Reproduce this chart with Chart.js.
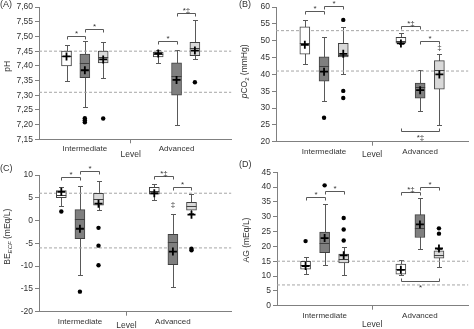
<!DOCTYPE html>
<html><head><meta charset="utf-8">
<script src="https://cdn.jsdelivr.net/npm/chart.js@4.4.1/dist/chart.umd.min.js"></script>
<style>
html,body{margin:0;padding:0;background:#fff;width:474px;height:329px;overflow:hidden;position:relative;}
canvas{position:absolute;}
</style></head><body>
<canvas id="cA" width="237" height="164" style="left:0;top:0"></canvas>
<canvas id="cB" width="237" height="164" style="left:237px;top:0"></canvas>
<canvas id="cC" width="237" height="169" style="left:0;top:160px"></canvas>
<canvas id="cD" width="237" height="169" style="left:237px;top:160px"></canvas>
<script>
// ---------- data ----------
const categories = ['Intermediate', 'Advanced'];
const xTitle = 'Level';
// box order: Intermediate (white, dark, light), Advanced (white, dark, light)

const pH_ticks   = [7.15, 7.20, 7.25, 7.30, 7.35, 7.40, 7.45, 7.50, 7.55, 7.60];
const pH_low     = [7.35, 7.26, 7.36, 7.41, 7.20, 7.425];
const pH_q1      = [7.40, 7.36, 7.41, 7.43, 7.30, 7.435];
const pH_median  = [7.435, 7.41, 7.43, 7.44, 7.365, 7.46];
const pH_q3      = [7.45, 7.44, 7.45, 7.447, 7.41, 7.48];
const pH_high    = [7.47, 7.485, 7.48, 7.453, 7.453, 7.555];
const pH_mean    = [7.432, 7.385, 7.422, 7.442, 7.352, 7.452];
const pH_outliers = [[1, 7.222], [1, 7.215], [1, 7.208], [2, 7.221], [5, 7.344]];
const pH_ref     = [7.45, 7.31];
const pH_brackets = [[0, 1, 7.500, '*', 'above'], [1, 2, 7.527, '*', 'above'], [3, 4, 7.483, '*', 'above'], [4, 5, 7.580, '*‡', 'above']];
const pH_marks   = [];

const pCO2_ticks  = [20, 25, 30, 35, 40, 45, 50, 55, 60];
const pCO2_low    = [43.2, 32.2, 40.2, 49.0, 29.1, 25.1];
const pCO2_q1     = [46.0, 38.0, 45.2, 49.3, 32.9, 35.6];
const pCO2_median = [49.2, 42.4, 45.8, 49.8, 36.2, 41.4];
const pCO2_q3     = [54.1, 45.2, 49.2, 51.0, 37.4, 44.1];
const pCO2_high   = [56.2, 51.2, 54.1, 52.2, 41.2, 46.2];
const pCO2_mean   = [48.8, 40.8, 46.1, 49.2, 35.3, 40.0];
const pCO2_outliers = [[1, 27.1], [2, 56.2], [2, 35.1], [2, 33.0]];
const pCO2_ref    = [53, 41];
const pCO2_brackets = [[0, 1, 58.8, '*', 'above'], [1, 2, 60.2, '*', 'above'], [3, 4, 54.4, '*‡', 'above'], [4, 5, 49.8, '*', 'above'], [3, 5, 23.2, '*‡', 'below']];
const pCO2_marks  = [[5, 48.0, '‡']];

const BE_ticks    = [-20, -15, -10, -5, 0, 5, 10];
const BE_low      = [3.2, -12.0, 2.3, 4.6, -14.6, 1.6];
const BE_q1       = [5.0, -4.0, 3.4, 5.8, -9.7, 2.3];
const BE_median   = [5.7, 0.3, 4.7, 6.5, -4.7, 3.1];
const BE_q3       = [6.6, 2.4, 6.0, 7.3, -3.0, 4.0];
const BE_high     = [7.4, 7.5, 8.6, 8.0, 1.4, 5.8];
const BE_mean     = [6.3, -1.8, 3.7, 6.0, -6.8, 1.3];
const BE_outliers = [[0, 2.0], [1, -15.6], [2, -1.6], [2, -5.5], [2, -9.8], [5, -6.2], [5, -6.5]];
const BE_ref      = [6, -6];
const BE_brackets = [[0, 1, 9.6, '*', 'above'], [1, 2, 10.9, '*', 'above'], [3, 4, 9.8, '*‡', 'above'], [4, 5, 7.4, '*', 'above']];
const BE_marks    = [[4, 3.4, '‡']];

const AG_ticks    = [0, 5, 10, 15, 20, 25, 30, 35, 40, 45];
const AG_low      = [10.6, 13.6, 10.3, 10.3, 19.0, 13.0];
const AG_q1       = [12.3, 17.9, 14.4, 10.6, 23.0, 16.0];
const AG_median   = [13.7, 21.0, 15.7, 12.3, 26.2, 17.2];
const AG_q3       = [15.0, 24.8, 17.4, 14.0, 30.7, 18.5];
const AG_high     = [16.3, 34.3, 19.7, 15.5, 36.2, 19.0];
const AG_mean     = [13.4, 22.8, 17.0, 12.1, 27.4, 19.3];
const AG_outliers = [[0, 21.8], [1, 40.6], [2, 29.6], [2, 25.7], [2, 22.0], [5, 26.1], [5, 24.3]];
const AG_ref      = [15, 7];
const AG_brackets = [[0, 1, 36.8, '*', 'above'], [1, 2, 38.7, '*', 'above'], [3, 4, 38.5, '*‡', 'above'], [4, 5, 40.2, '*', 'above'], [3, 5, 8.4, '*', 'below']];
const AG_marks    = [];

// ---------- drawing ----------
const FONT = "'Liberation Sans', Arial, sans-serif";
const TXT = '#333333';
const AXIS = '#808080';
const LINE = '#595959';
const FILLS = ['#ffffff', '#7f7f7f', '#d9d9d9'];
const boxX = i => Math.floor(i / 3) + 0.5 + (i % 3 - 1) * 0.2;

function extras(P) {
  return {
    id: 'extras',
    beforeDatasetsDraw(chart) {
      const {ctx, scales: {x, y}} = chart;
      ctx.save();
      ctx.strokeStyle = LINE; ctx.lineWidth = 1;
      P.low.forEach((lo, i) => {
        const px = Math.round(x.getPixelForValue(boxX(i))) + 0.5;
        const yl = Math.round(y.getPixelForValue(lo)) + 0.5;
        const yh = Math.round(y.getPixelForValue(P.high[i])) + 0.5;
        ctx.beginPath();
        ctx.moveTo(px, yl); ctx.lineTo(px, yh);
        ctx.moveTo(px - 2.5, yl); ctx.lineTo(px + 2.5, yl);
        ctx.moveTo(px - 2.5, yh); ctx.lineTo(px + 2.5, yh);
        ctx.stroke();
      });
      ctx.restore();
    },
    afterDatasetDraw(chart, args) {
      if (args.meta.type !== 'bar') return;
      const {ctx, scales: {x, y}} = chart;
      ctx.save();
      ctx.strokeStyle = '#404040'; ctx.lineWidth = 1;
      P.median.forEach((m, i) => {
        const px = x.getPixelForValue(boxX(i));
        const py = Math.round(y.getPixelForValue(m)) + 0.5;
        ctx.beginPath(); ctx.moveTo(px - 5, py); ctx.lineTo(px + 5, py); ctx.stroke();
      });
      ctx.restore();
    },
    afterDraw(chart) {
      const {ctx, chartArea, scales: {x, y}} = chart;
      ctx.save();
      ctx.strokeStyle = LINE; ctx.lineWidth = 1; ctx.fillStyle = TXT;
      ctx.textAlign = 'center'; ctx.textBaseline = 'middle';
      ctx.font = '8px ' + FONT;
      P.brackets.forEach(([a, b, v, label, side]) => {
        const x1 = Math.round(x.getPixelForValue(boxX(a))) + 0.5;
        const x2 = Math.round(x.getPixelForValue(boxX(b))) + 0.5;
        const yy = Math.round(y.getPixelForValue(v)) + 0.5;
        const d = side === 'below' ? -1 : 1;
        ctx.beginPath();
        ctx.moveTo(x1, yy + 3 * d); ctx.lineTo(x1, yy); ctx.lineTo(x2, yy); ctx.lineTo(x2, yy + 3 * d);
        ctx.stroke();
        ctx.fillText(label, (x1 + x2) / 2, side === 'below' ? yy + 6 : yy - 3);
      });
      P.marks.forEach(([i, v, t]) => {
        ctx.fillText(t, x.getPixelForValue(boxX(i)), y.getPixelForValue(v));
      });
      // panel label
      ctx.textAlign = 'left';
      ctx.font = '9px ' + FONT;
      ctx.fillText(P.label, P.labelX, P.labelY);
      // y-axis title with rich segments
      ctx.translate(P.titleX, (chartArea.top + chartArea.bottom) / 2 + P.titleDy);
      ctx.rotate(-Math.PI / 2);
      const fontOf = s => (s.i ? 'italic ' : '') + (s.sub ? '6px ' : '8.5px ') + FONT;
      let total = 0;
      P.title.forEach(s => { ctx.font = fontOf(s); s.w = ctx.measureText(s.t).width; total += s.w; });
      let cx = -total / 2;
      P.title.forEach(s => { ctx.font = fontOf(s); ctx.fillText(s.t, cx, s.sub ? 2.5 : 0); cx += s.w; });
      ctx.restore();
    }
  };
}

function makeChart(id, P) {
  const xs = P.low.map((_, i) => boxX(i));
  const datasets = [];
  P.ref.forEach(r => datasets.push({
    type: 'line', data: [{x: P.xMin, y: r}, {x: P.xMax, y: r}],
    borderColor: '#a6a6a6', borderWidth: 1, borderDash: [3, 2], pointRadius: 0, order: 10, clip: false
  }));
  datasets.push({
    type: 'bar', data: xs.map((x, i) => ({x, y: [P.q1[i], P.q3[i]]})),
    backgroundColor: xs.map((_, i) => FILLS[i % 3]), borderColor: '#404040', borderWidth: 1,
    borderSkipped: false, barThickness: 10, order: 5
  });
  datasets.push({
    type: 'scatter', data: P.outliers.map(([i, v]) => ({x: boxX(i), y: v})),
    pointStyle: 'circle', pointRadius: 2.2, backgroundColor: '#000', borderColor: '#000', borderWidth: 0, order: 2, clip: false
  });
  datasets.push({
    type: 'scatter', data: xs.map((x, i) => ({x, y: P.mean[i]})),
    pointStyle: 'cross', pointRadius: 4, borderColor: '#000', borderWidth: 1.8, order: 1, clip: false
  });
  return new Chart(document.getElementById(id), {
    type: 'bar',
    data: {datasets},
    options: {
      responsive: false, animation: false, devicePixelRatio: 1,
      layout: {padding: {left: 0, right: P.padRight, top: P.padTop, bottom: 0}},
      plugins: {legend: {display: false}, tooltip: {enabled: false}},
      scales: {
        x: {
          type: 'linear', min: P.xMin, max: P.xMax, offset: false,
          grid: {offset: false, drawOnChartArea: false, tickLength: 4,
                 tickColor: c => (c.tick && c.tick.value === 1) ? AXIS : 'rgba(0,0,0,0)'},
          border: {color: AXIS, width: 1},
          afterBuildTicks: s => { s.ticks = [{value: 0.5}, {value: 1}, {value: 1.5}]; },
          afterFit: s => { s.height = P.xHeight; },
          ticks: {
            autoSkip: false, maxRotation: 0, minRotation: 0, padding: 1, color: TXT,
            callback: v => v === 1 ? xTitle : categories[Math.round(v - 0.5)],
            font: c => (c.tick && c.tick.value === 1)
              ? {family: FONT, size: 8.5, lineHeight: P.levelLH}
              : {family: FONT, size: 8}
          }
        },
        y: {
          type: 'linear', min: P.ticks[0], max: P.ticks[P.ticks.length - 1], beginAtZero: false,
          grid: {drawOnChartArea: false, tickLength: 4, tickColor: AXIS},
          border: {color: AXIS, width: 1},
          afterBuildTicks: s => { s.ticks = P.ticks.map(v => ({value: v})); },
          afterFit: s => { s.width = P.left; },
          ticks: {padding: 2, color: TXT, font: {family: FONT, size: 8.5}, callback: P.fmt}
        }
      }
    },
    plugins: [extras(P)]
  });
}

const intFmt = v => String(Math.round(v));
makeChart('cA', {
  ticks: pH_ticks, low: pH_low, q1: pH_q1, median: pH_median, q3: pH_q3, high: pH_high, mean: pH_mean,
  outliers: pH_outliers, ref: pH_ref, brackets: pH_brackets, marks: pH_marks,
  fmt: v => v.toFixed(2).replace('.', ','),
  xMin: 0, xMax: 2.096, padTop: 5.7, padRight: 2, left: 39, xHeight: 24.7, levelLH: '21.4px',
  title: [{t: 'pH'}], titleX: 7.5, titleDy: -7, label: '(A)', labelX: 0, labelY: 5
});
makeChart('cB', {
  ticks: pCO2_ticks, low: pCO2_low, q1: pCO2_q1, median: pCO2_median, q3: pCO2_q3, high: pCO2_high, mean: pCO2_mean,
  outliers: pCO2_outliers, ref: pCO2_ref, brackets: pCO2_brackets, marks: pCO2_marks,
  fmt: intFmt,
  xMin: 0, xMax: 2.0, padTop: 5, padRight: 0, left: 39, xHeight: 22.3, levelLH: '15.2px',
  title: [{t: 'p', i: 1}, {t: 'CO'}, {t: '2', sub: 1}, {t: ' (mmHg)'}], titleX: 7.5, titleDy: -3,
  label: '(B)', labelX: 2, labelY: 5
});
makeChart('cC', {
  ticks: BE_ticks, low: BE_low, q1: BE_q1, median: BE_median, q3: BE_q3, high: BE_high, mean: BE_mean,
  outliers: BE_outliers, ref: BE_ref, brackets: BE_brackets, marks: BE_marks,
  fmt: intFmt,
  xMin: 0.06, xMax: 2.127, padTop: 15, padRight: 2, left: 39, xHeight: 17.3, levelLH: '18px',
  title: [{t: 'BE'}, {t: 'ECF', sub: 1, i: 1}, {t: ' (mEq/L)'}], titleX: 7.5, titleDy: -6.6,
  label: '(C)', labelX: 0, labelY: 8.3
});
makeChart('cD', {
  ticks: AG_ticks, low: AG_low, q1: AG_q1, median: AG_median, q3: AG_q3, high: AG_high, mean: AG_mean,
  outliers: AG_outliers, ref: AG_ref, brackets: AG_brackets, marks: AG_marks,
  fmt: intFmt,
  xMin: 0, xMax: 2.007, padTop: 12.3, padRight: 0.3, left: 40, xHeight: 23.3, levelLH: '27px',
  title: [{t: 'AG (mEq/L)'}], titleX: 10, titleDy: 1, label: '(D)', labelX: 2, labelY: 5
});
</script>
</body></html>
